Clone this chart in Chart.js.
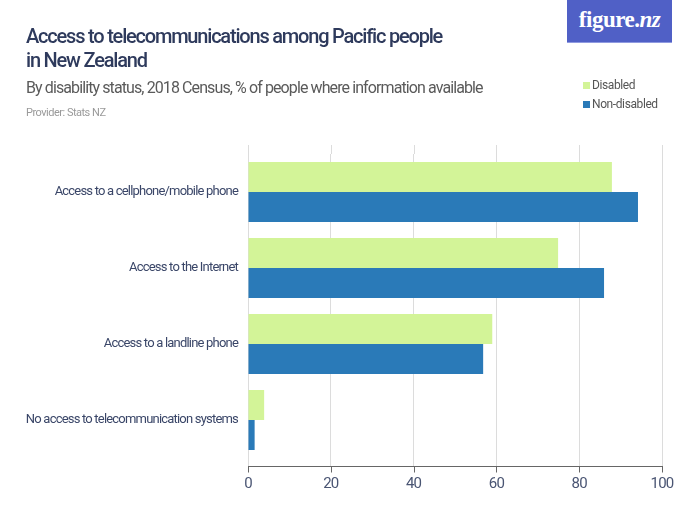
<!DOCTYPE html>
<html>
<head>
<meta charset="utf-8">
<script src="https://cdn.jsdelivr.net/npm/chart.js@4"></script>
<style>
  body { margin: 0; background: #fff; }
  #wrap { position: relative; width: 700px; height: 525px; overflow: hidden; font-family: Roboto, sans-serif; }
  #chart { position: absolute; left: 0; top: 0; }
  .t { position: absolute; white-space: nowrap; }
  #title { left: 26px; top: 24px; font-size: 20px; line-height: 24px; font-weight: 500; letter-spacing: -1.2px; color: #2e3a5c; }
  #sub { left: 26px; top: 78px; font-size: 16px; letter-spacing: -0.9px; color: #5a5a5a; }
  #prov { left: 26px; top: 106px; font-size: 11px; letter-spacing: -0.5px; color: #9a9a9a; }
  #logo { position: absolute; left: 567px; top: 0; width: 105px; height: 42px; background: #5060c6; border-bottom: 1px solid #8f9ae0;
          color: #fff; font-family: "Liberation Serif", serif; font-weight: bold; font-size: 23px; text-align: center; line-height: 40px; letter-spacing: -0.5px; }
  .leg { position: absolute; left: 583px; font-size: 12px; letter-spacing: -0.4px; color: #555; }
  .leg span { display: inline-block; width: 7px; height: 7px; margin-right: 2px; }
</style>
</head>
<body>
<div id="wrap">
  <canvas id="chart" width="700" height="525"></canvas>
  <div class="t" id="title">Access to telecommunications among Pacific people<br>in New Zealand</div>
  <div class="t" id="sub">By disability status, 2018 Census, % of people where information available</div>
  <div class="t" id="prov">Provider: Stats NZ</div>
  <div id="logo">figure.<i>nz</i></div>
  <div id="legend"></div>
</div>
<script>
const categories = [
  'Access to a cellphone/mobile phone',
  'Access to the Internet',
  'Access to a landline phone',
  'No access to telecommunication systems'
];
const seriesNames = ['Disabled', 'Non-disabled'];
const disabled = [87.9, 74.9, 59.0, 3.9];
const nonDisabled = [94.2, 86.0, 56.8, 1.6];
const xTicks = [0, 20, 40, 60, 80, 100];
const colors = ['#d3f498', '#2a7ab8'];

// legend
const legend = document.getElementById('legend');
seriesNames.forEach((name, i) => {
  const d = document.createElement('div');
  d.className = 'leg';
  d.style.top = (78 + i * 19) + 'px';
  d.innerHTML = '<span style="background:' + colors[i] + '"></span>' + name;
  legend.appendChild(d);
});

// tighter text on the canvas, the reference uses a condensed face
const tightText = {
  id: 'tightText',
  beforeDraw(chart) { chart.ctx.letterSpacing = '-0.8px'; }
};

// gridline stubs above the plot and the axis line below it
const axisExtras = {
  id: 'axisExtras',
  afterDatasetsDraw(chart) {
    const ctx = chart.ctx;
    const x = chart.scales.x;
    const area = chart.chartArea;
    ctx.save();
    ctx.lineWidth = 1;
    ctx.strokeStyle = '#dcdcdc';
    xTicks.forEach(v => {
      const px = Math.round(x.getPixelForValue(v)) + 0.5;
      ctx.beginPath();
      ctx.moveTo(px, area.top - 9);
      ctx.lineTo(px, area.top);
      ctx.stroke();
    });
    ctx.strokeStyle = '#666';
    const y = area.bottom + 8.5;
    ctx.beginPath();
    ctx.moveTo(x.getPixelForValue(0), y);
    ctx.lineTo(x.getPixelForValue(100) + 1, y);
    ctx.stroke();
    xTicks.forEach(v => {
      const px = Math.round(x.getPixelForValue(v)) + 0.5;
      ctx.beginPath();
      ctx.moveTo(px, y);
      ctx.lineTo(px, y + 6);
      ctx.stroke();
    });
    ctx.restore();
  }
};

new Chart(document.getElementById('chart'), {
  type: 'bar',
  data: {
    labels: categories,
    datasets: [
      { label: seriesNames[0], data: disabled, backgroundColor: colors[0] },
      { label: seriesNames[1], data: nonDisabled, backgroundColor: colors[1] }
    ]
  },
  options: {
    indexAxis: 'y',
    responsive: false,
    animation: false,
    layout: { padding: { top: 154, right: 38, left: 0, bottom: 0 } },
    datasets: { bar: { categoryPercentage: 60 / 76, barPercentage: 1 } },
    plugins: { legend: { display: false }, tooltip: { enabled: false } },
    scales: {
      x: {
        min: 0, max: 100,
        afterBuildTicks: s => { s.ticks = xTicks.map(v => ({ value: v })); },
        afterFit: s => { s.height = 67; },
        border: { display: false },
        grid: { color: '#dcdcdc', drawTicks: true, tickLength: 8, tickColor: '#dcdcdc' },
        ticks: { color: '#4a5573', padding: 9, font: { family: 'Roboto', size: 15 } }
      },
      y: {
        afterFit: s => { s.width = 248; },
        border: { display: false },
        grid: { display: false },
        ticks: { color: '#3a4668', padding: 2, font: { family: 'Roboto', size: 13 } }
      }
    }
  },
  plugins: [tightText, axisExtras]
});
</script>
</body>
</html>
